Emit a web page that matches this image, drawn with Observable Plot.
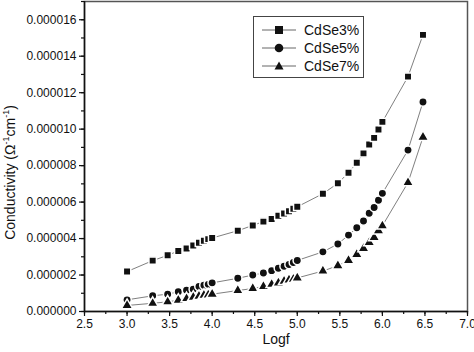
<!DOCTYPE html>
<html>
<head>
<meta charset="utf-8">
<script src="https://cdn.jsdelivr.net/npm/d3@7"></script>
<script src="https://cdn.jsdelivr.net/npm/@observablehq/plot@0.6"></script>
<style>
  html, body { margin: 0; padding: 0; background: #fff; }
  #wrap { position: relative; width: 474px; height: 352px; font-family: "Liberation Sans", Arial, sans-serif; }
  #legend { position: absolute; left: 253px; top: 16px; width: 109px; height: 60px; border: 1px solid #444; background: #fff; }
  #legend .row { position: absolute; left: 0; height: 18px; display: flex; align-items: center; }
  #legend svg { display: block; }
  #legend span { font-size: 14px; color: #111; margin-left: 8px; }
</style>
</head>
<body>
<div id="wrap"></div>
<script>
// Log frequency (x)
const logf = [3.0, 3.301, 3.477, 3.602, 3.699, 3.778, 3.845, 3.903, 3.954, 4.0,
              4.301, 4.477, 4.602, 4.699, 4.778, 4.845, 4.903, 4.954, 5.0,
              5.301, 5.477, 5.602, 5.699, 5.778, 5.845, 5.903, 5.954, 6.0,
              6.301, 6.477];
// Conductivity values in units of 1e-6 (Ω^-1 cm^-1)
const cdse3 = [2.19, 2.79, 3.08, 3.32, 3.46, 3.62, 3.77, 3.88, 3.97, 4.03,
               4.43, 4.72, 4.93, 5.07, 5.25, 5.37, 5.50, 5.63, 5.74,
               6.46, 7.03, 7.61, 8.16, 8.67, 9.16, 9.52, 9.98, 10.4,
               12.88, 15.17];
const cdse5 = [0.64, 0.86, 0.95, 1.08, 1.17, 1.22, 1.37, 1.44, 1.49, 1.57,
               1.82, 2.00, 2.11, 2.24, 2.37, 2.48, 2.58, 2.69, 2.80,
               3.27, 3.70, 4.19, 4.59, 4.96, 5.39, 5.70, 6.10, 6.48,
               8.85, 11.49];
const cdse7 = [0.33, 0.45, 0.53, 0.62, 0.71, 0.78, 0.84, 0.89, 0.91, 0.95,
               1.15, 1.26, 1.37, 1.49, 1.57, 1.66, 1.73, 1.77, 1.84,
               2.22, 2.51, 2.80, 3.13, 3.46, 3.79, 4.06, 4.43, 4.70,
               7.07, 9.56];
const seriesNames = ["CdSe3%", "CdSe5%", "CdSe7%"];
const seriesSymbols = ["square", "circle", "triangle"];
const xMajor = [2.5, 3.0, 3.5, 4.0, 4.5, 5.0, 5.5, 6.0, 6.5, 7.0];
const yMajor = [0, 2, 4, 6, 8, 10, 12, 14, 16];

const seriesValues = [cdse3, cdse5, cdse7];
const data = [];
seriesValues.forEach((vals, si) => {
  vals.forEach((v, i) => data.push({series: seriesNames[si], x: logf[i], y: v}));
});

const xMinor = d3.range(2.5, 7.0001, 0.25);
const yMinor = d3.range(0, 17.0001, 1);
const font = "Liberation Sans, Arial, sans-serif";
const blank = () => "";

const chart = Plot.plot({
  width: 474,
  height: 352,
  marginLeft: 84,
  marginRight: 7,
  marginTop: 1,
  marginBottom: 41,
  style: {fontFamily: font, fontSize: "12px", color: "#111", background: "white"},
  x: {domain: [2.5, 7.0]},
  y: {domain: [0, 17]},
  symbol: {domain: seriesNames, range: seriesSymbols},
  marks: [
    Plot.frame({stroke: "#555", strokeWidth: 1.5}),
    Plot.axisX({ticks: xMinor, tickSize: 3, tickFormat: blank, stroke: "#111", strokeWidth: 1.2, label: null}),
    Plot.axisX({ticks: xMajor, tickSize: 5, tickPadding: 3, tickFormat: d => d.toFixed(1), stroke: "#111", strokeWidth: 1.2,
                fontSize: 12, label: null}),
    Plot.axisY({ticks: yMinor, tickSize: 3, tickFormat: blank, stroke: "#111", strokeWidth: 1.2, label: null}),
    Plot.axisY({ticks: yMajor, tickSize: 5, tickPadding: 3, tickFormat: d => (d * 1e-6).toFixed(6), stroke: "#111", strokeWidth: 1.2,
                fontSize: 12, label: null}),
    Plot.ruleX([2.5], {stroke: "#111", strokeWidth: 1.5}),
    Plot.ruleY([0], {stroke: "#111", strokeWidth: 1.5}),
    Plot.line(data, {x: "x", y: "y", z: "series", stroke: "#808080", strokeWidth: 1}),
    Plot.dot(data, {x: "x", y: "y", symbol: "series", fill: "#111", stroke: "white", strokeWidth: 1.5, r: 4.2}),
    Plot.text(["Logf"], {frameAnchor: "bottom", dy: 32, fontSize: 14, fill: "#111"}),
    Plot.text(["Conductivity (Ω-1cm-1)"], {frameAnchor: "left", textAnchor: "middle", dx: -74, dy: 16, rotate: -90,
                fontSize: 14, fill: "#111", className: "ylabel"})
  ]
});

// superscripts in the y label
chart.querySelectorAll("text").forEach(t => {
  if (t.textContent === "Conductivity (Ω-1cm-1)") {
    t.innerHTML = 'Conductivity (Ω<tspan font-size="9" dy="-6">-1</tspan><tspan dy="6">cm</tspan>' +
                  '<tspan font-size="9" dy="-6">-1</tspan><tspan dy="6">)</tspan>';
  }
});

const wrap = document.getElementById("wrap");
wrap.appendChild(chart);

// Legend
const legend = document.createElement("div");
legend.id = "legend";
const symPaths = {
  square: '<rect x="13" y="5" width="8" height="8" fill="#111"/>',
  circle: '<circle cx="17" cy="9" r="4.3" fill="#111"/>',
  triangle: '<path d="M17 4.5 L21.5 12.5 L12.5 12.5 Z" fill="#111"/>'
};
seriesNames.forEach((name, i) => {
  const row = document.createElement("div");
  row.className = "row";
  row.style.top = (4 + i * 18) + "px";
  row.style.left = "8px";
  row.innerHTML = '<svg width="34" height="18"><line x1="0" y1="9" x2="34" y2="9" stroke="#666" stroke-width="1"/>' +
    symPaths[seriesSymbols[i]] + '</svg><span>' + name + '</span>';
  legend.appendChild(row);
});
wrap.appendChild(legend);
</script>
</body>
</html>
